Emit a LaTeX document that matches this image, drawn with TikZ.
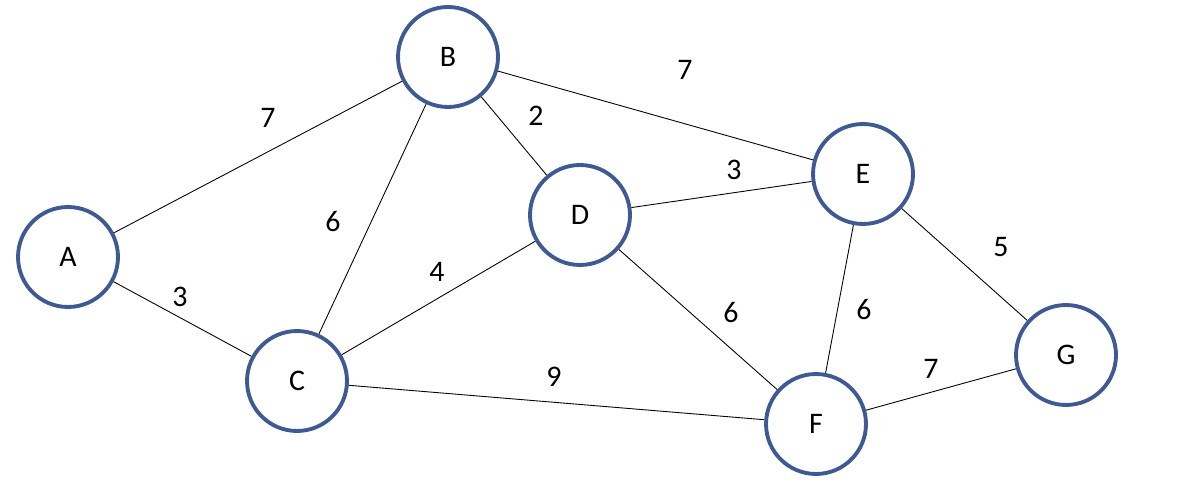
\documentclass[tikz,border=0pt]{standalone}
\usepackage{fontspec}
\setmainfont{Carlito}
\begin{document}
\begin{tikzpicture}[x=0.02cm,y=-0.02cm,
  vert/.style={circle,draw=vblue,line width=2.2pt,minimum size=2.0cm,inner sep=0pt,font=\fontsize{17}{19}\selectfont},
  wt/.style={font=\fontsize{17}{19}\selectfont},
  edge/.style={line width=0.5pt,black}]
\definecolor{vblue}{HTML}{3F5A92}
\useasboundingbox (0,0) rectangle (1195,496);
\node[vert] (A) at (68,257) {A};
\node[vert] (B) at (448,57) {B};
\node[vert] (C) at (297,381) {C};
\node[vert] (D) at (580,215) {D};
\node[vert] (E) at (863,174) {E};
\node[vert] (F) at (816,424) {F};
\node[vert] (G) at (1066,355) {G};
\draw[edge] (A)--(B); \draw[edge] (A)--(C); \draw[edge] (B)--(C);
\draw[edge] (B)--(D); \draw[edge] (B)--(E); \draw[edge] (C)--(D);
\draw[edge] (C)--(F); \draw[edge] (D)--(E); \draw[edge] (D)--(F);
\draw[edge] (E)--(F); \draw[edge] (E)--(G); \draw[edge] (F)--(G);
\node[wt] (w1) at (268,118) {7};
\node[wt] (w2) at (180,297) {3};
\node[wt] (w3) at (333,222) {6};
\node[wt] (w4) at (437,272) {4};
\node[wt] (w5) at (536,116) {2};
\node[wt] (w6) at (685,70) {7};
\node[wt] (w7) at (734,170) {3};
\node[wt] (w8) at (731,313) {6};
\node[wt] (w9) at (554,377) {9};
\node[wt] (w10) at (864,310) {6};
\node[wt] (w11) at (1001,247) {5};
\node[wt] (w12) at (931,369) {7};
\end{tikzpicture}
\end{document}
